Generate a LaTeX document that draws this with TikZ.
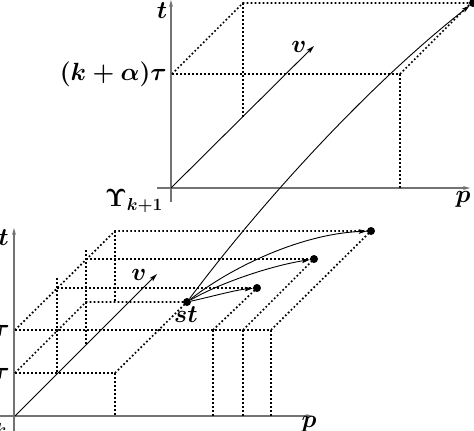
\documentclass[tikz,border=0pt]{standalone}
\usetikzlibrary{arrows.meta}
\begin{document}
\begin{tikzpicture}[x=1pt,y=-1pt,
  axis/.style={draw=black!55, line width=1.2pt, -{Stealth[length=7pt,width=4pt]}},
  dotl/.style={line width=1.7pt, dash pattern=on 1.7pt off 2.3pt},
  sol/.style={line width=0.9pt},
  arr/.style={sol, -{Stealth[length=8pt,width=4.5pt,inset=1.5pt]}},
  pt/.style={circle, fill=black, inner sep=0pt, minimum size=8pt},
  lab/.style={font=\fontsize{25}{30}\selectfont\boldmath, inner sep=0pt}]
\useasboundingbox (0,0) rectangle (474,431);

% ---------- upper panel ----------
\draw[axis] (171,202) -- (171,0);
\draw[axis] (157,188) -- (470,188);
\draw[dotl] (172,74) -- (400,74) -- (400,188);
\draw[dotl] (172,74) -- (243,3) -- (474,3);
\draw[dotl] (243,3) -- (243,117);
\draw[dotl] (400,74) -- (470,4);
\coordinate (O1) at (171,188);
\coordinate (V1) at (314,46);
\draw[arr] (O1) -- (V1);
\node[pt] (q) at (473,3) {};

\node[lab] (t1) at (162,11) {$t$};
\node[lab, anchor=east] (ka) at (167,74) {$(k+\alpha)\tau$};
\node[lab] (u1) at (134,201) {$\Upsilon_{k+1}$};
\node[lab] (p1) at (463,199) {$p$};
\node[lab] (v1) at (299,47) {$v$};

% ---------- lower panel ----------
\draw[axis] (14,431) -- (14,228);
\draw[axis] (0,416) -- (313,416);
\draw[dotl] (15,373) -- (115,373) -- (115,416);
\draw[dotl] (15,373) -- (86,302) -- (187,302);
\draw[dotl] (115,373) -- (187,302);
\draw[dotl] (15,330) -- (271,330);
\draw[dotl] (15,330) -- (115,231) -- (371,231);
\draw[dotl] (57,288) -- (257,288);
\draw[dotl] (86,259) -- (314,259);
\draw[dotl] (213,330) -- (257,288);
\draw[dotl] (243,330) -- (314,259);
\draw[dotl] (271,330) -- (371,231);
\draw[dotl] (213,330) -- (213,416);
\draw[dotl] (243,330) -- (243,416);
\draw[dotl] (271,330) -- (271,416);
\draw[dotl] (57,278) -- (57,373);
\draw[dotl] (86,250) -- (86,345);
\draw[dotl] (115,231) -- (115,302);

\coordinate (O2) at (15,416);
\coordinate (V2) at (157,274);
\draw[arr] (O2) -- (V2);

\node[pt] (st) at (187,302) {};
\node[pt] (d1) at (257,288) {};
\node[pt] (d2) at (314,259) {};
\node[pt] (d3) at (371,231) {};

\draw[arr] (st) .. controls (210,297) and (235,290) .. (d1);
\draw[arr] (st) .. controls (220,283) and (270,266) .. (d2);
\draw[arr] (st) .. controls (230,268) and (300,234) .. (d3);
\draw[arr] (st) .. controls (265,198) and (371,83) .. (q);

\node[lab] (stl) at (186,315) {$st$};
\node[lab] (v2) at (139,275) {$v$};
\node[lab] (p2) at (309,424) {$p$};
\node[lab, anchor=east] (t2) at (9,238) {$t$};
\node[lab, anchor=east] (tau1) at (10,331) {$\tau$};
\node[lab, anchor=east] (tau2) at (10,374) {$\tau$};
\node[lab, anchor=east] (u2) at (7,425) {$\Upsilon_{k}$};
\end{tikzpicture}
\end{document}
